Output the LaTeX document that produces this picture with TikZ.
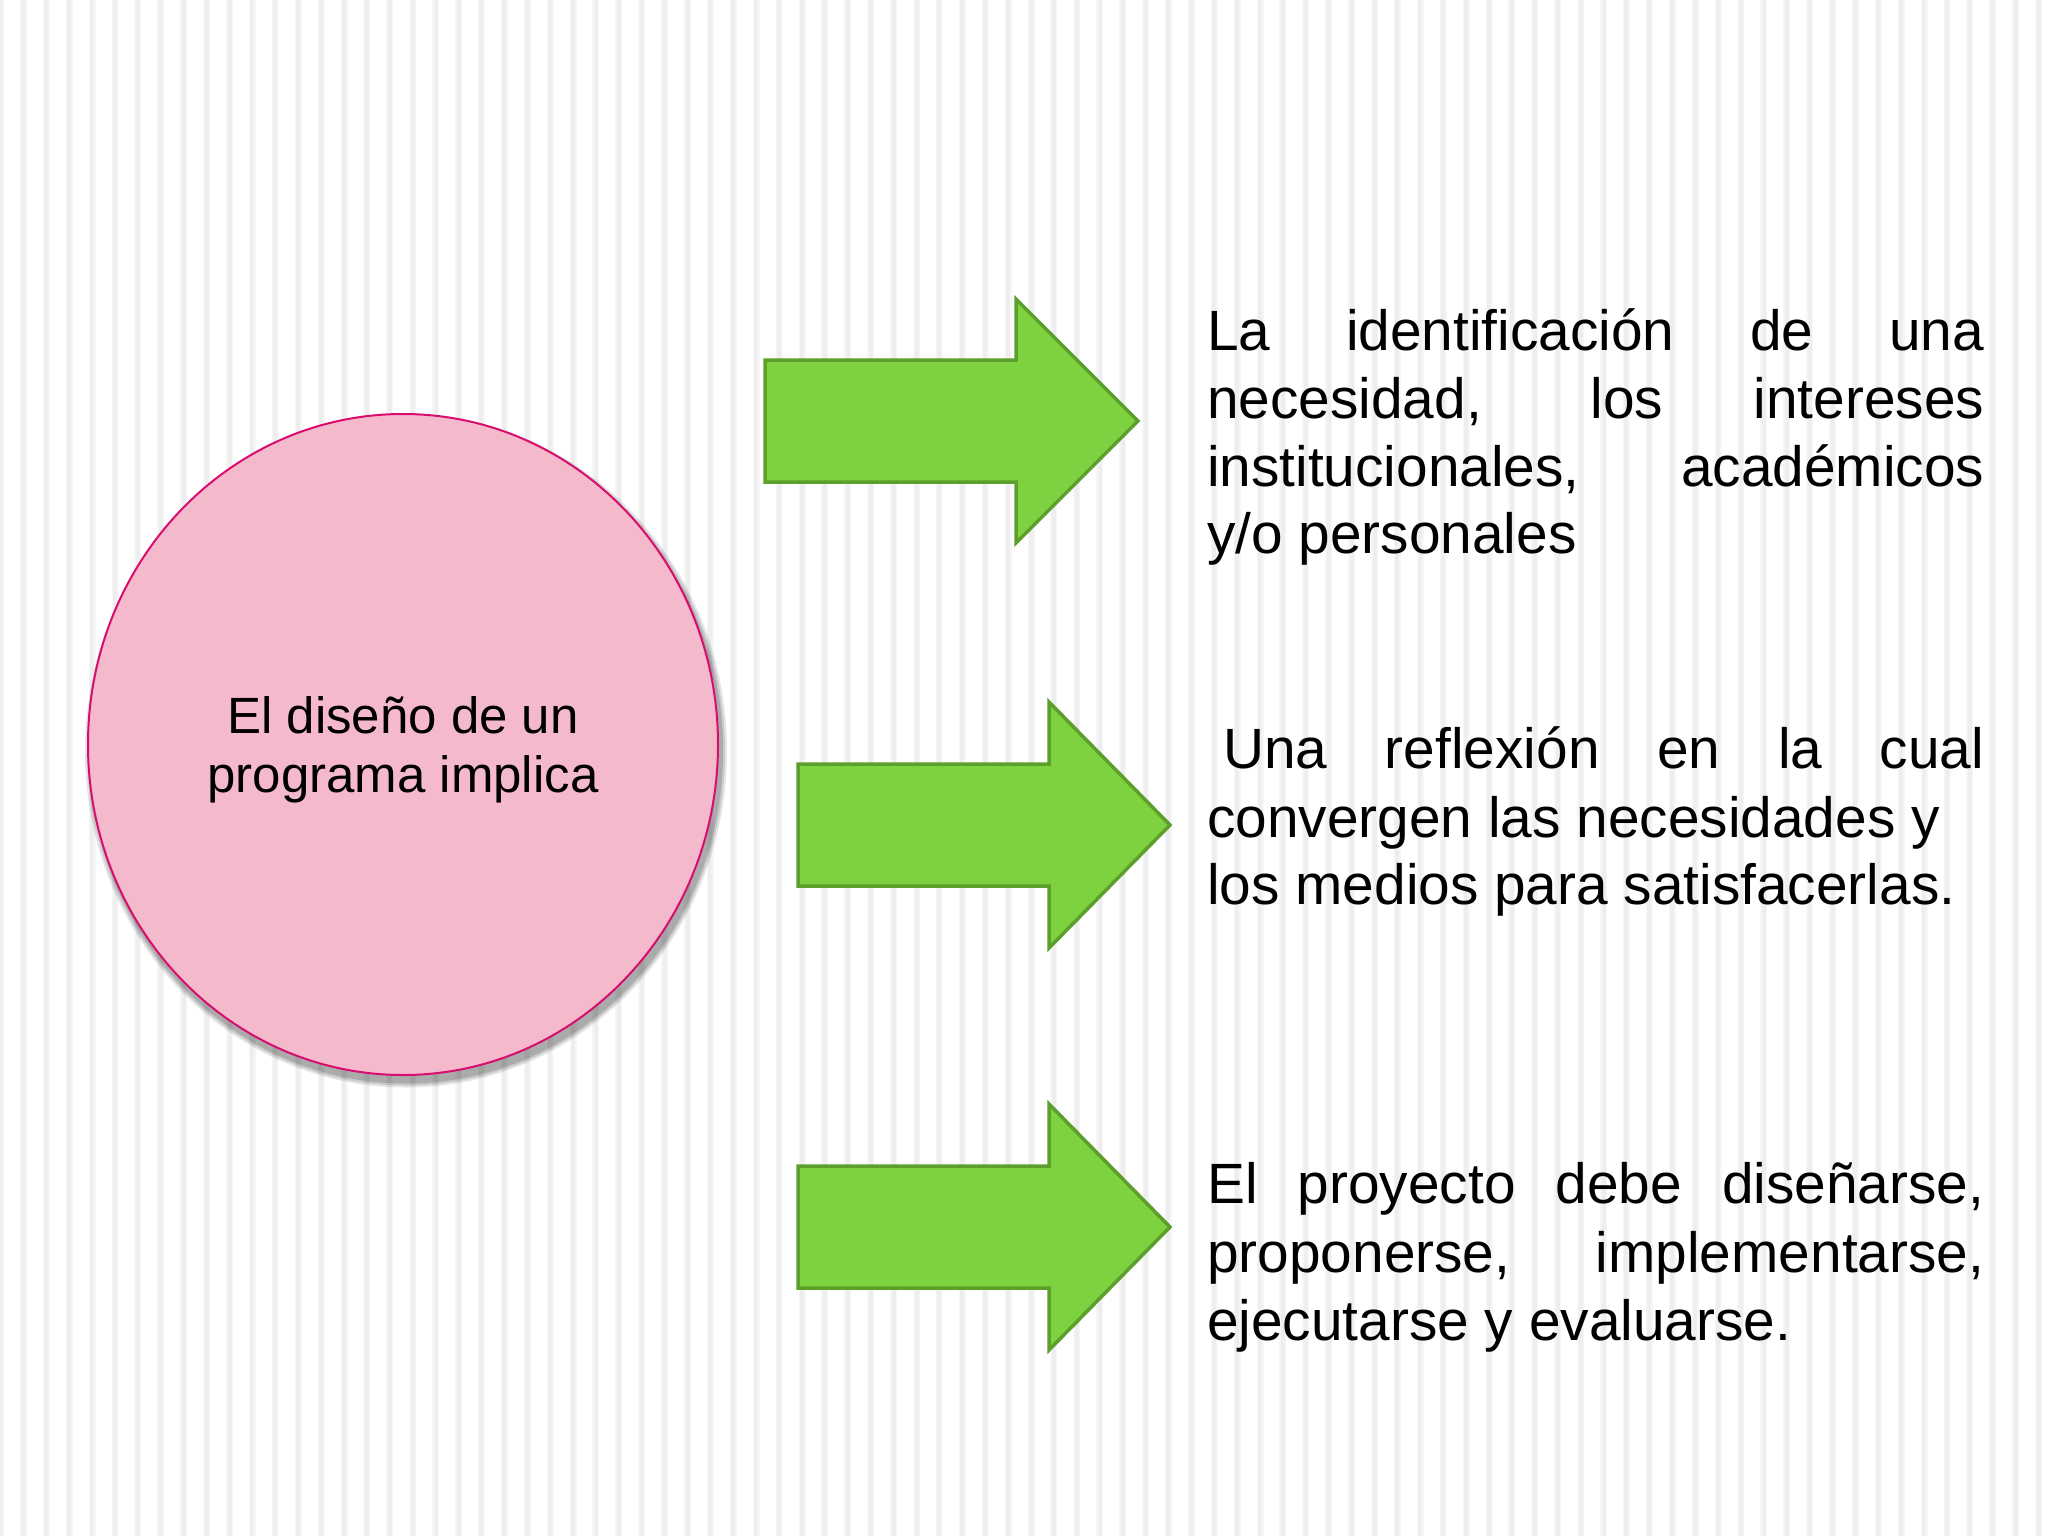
\documentclass[tikz,border=0pt]{standalone}
\usepackage{fontspec}
\setmainfont{Liberation Sans}
\usetikzlibrary{shapes.geometric}
\definecolor{stripeA}{HTML}{F6F6F6}
\definecolor{stripeB}{HTML}{EEEEEE}
\definecolor{pinkfill}{HTML}{F5B9CC}
\definecolor{pinkline}{HTML}{D80E6E}
\definecolor{greenfill}{HTML}{7ED13F}
\definecolor{greenline}{HTML}{5C9F2B}
\tikzset{
  arrowshape/.style={fill=greenfill, draw=greenline, line width=3.5pt, line join=miter},
  bigcircle/.style={ellipse, fill=pinkfill, draw=pinkline, line width=2pt, minimum width=630pt, minimum height=661pt, inner sep=0pt},
  rtext/.style={anchor=base west, inner sep=0pt, font=\fontsize{56.8}{68}\selectfont},
  ctext/.style={anchor=base, inner sep=0pt, font=\fontsize{51}{62}\selectfont},
}
\newcommand{\jline}[1]{\makebox[777pt][s]{#1}}
\begin{document}
\begin{tikzpicture}[x=1pt,y=-1pt]
\useasboundingbox (0,0) rectangle (2048,1536);
\fill[white] (0,0) rectangle (2048,1536);
% background stripes
\foreach \i in {0,...,89} {
  \fill[stripeA] ({\i*22.9-3},0) rectangle +(7,1536);
  \fill[stripeB] ({\i*22.9-1.5},0) rectangle +(4,1536);
}
% circle shadow
\foreach \d/\o in {6/0.10,4/0.12,2/0.15} {
  \fill[black, opacity=\o] (406,751) ellipse ({315+\d} and {330.5+\d});
}
\node[bigcircle] (c) at (403,744.5) {};
\node[ctext] (c1) at (403,733) {El diseño de un};
\node[ctext] (c2) at (403,792) {programa implica};
% arrows
\draw[arrowshape] (765,360) -- (1016,360) -- (1016,299) -- (1138,421) -- (1016,543) -- (1016,482) -- (765,482) -- cycle;
\draw[arrowshape] (798,764) -- (1049,764) -- (1049,702) -- (1170,825) -- (1049,948) -- (1049,886) -- (798,886) -- cycle;
\draw[arrowshape] (798,1166) -- (1049,1166) -- (1049,1104) -- (1170,1227) -- (1049,1350) -- (1049,1288) -- (798,1288) -- cycle;
% text block 1
\node[rtext] (a1) at (1207,350) {\jline{La identificación de una}};
\node[rtext] (a2) at (1207,418) {\jline{necesidad, los intereses}};
\node[rtext] (a3) at (1207,486) {\jline{institucionales, académicos}};
\node[rtext] (a4) at (1207,553) {y/o personales};
% text block 2
\node[rtext] (b1) at (1223,768) {\makebox[761pt][s]{Una reflexión en la cual}};
\node[rtext] (b2) at (1207,837) {convergen las necesidades y};
\node[rtext] (b3) at (1207,904) {los medios para satisfacerlas.};
% text block 3
\node[rtext] (d1) at (1207,1203) {\jline{El proyecto debe diseñarse,}};
\node[rtext] (d2) at (1207,1272) {\jline{proponerse, implementarse,}};
\node[rtext] (d3) at (1207,1340) {ejecutarse y evaluarse.};
\end{tikzpicture}
\end{document}
